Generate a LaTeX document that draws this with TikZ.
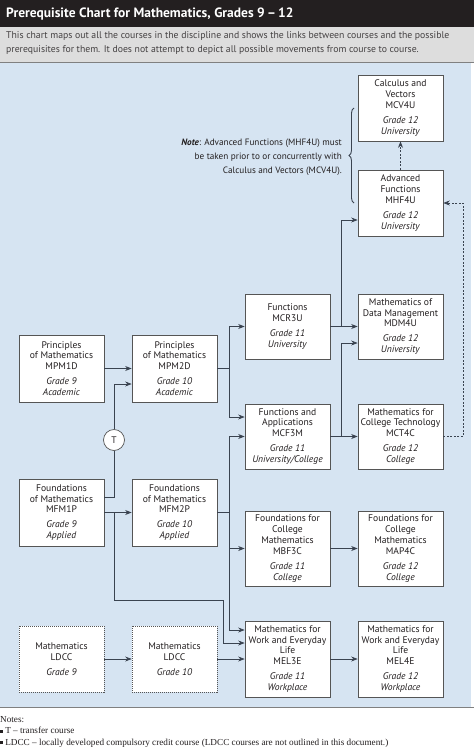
\documentclass[tikz,border=0pt]{standalone}
\usepackage{fontspec}
\setmainfont{PT Sans}
\newfontfamily\notefont{Liberation Serif}
\usetikzlibrary{arrows.meta,decorations.pathreplacing}
\definecolor{bluebg}{HTML}{D6E4F2}
\definecolor{grayband}{HTML}{DDDDDD}
\definecolor{titlebg}{HTML}{231F20}
\definecolor{ink}{HTML}{231F20}
\definecolor{linec}{HTML}{3A4350}
\definecolor{boxc}{HTML}{555555}
\tikzset{
  course/.style={draw=boxc, line width=0.7pt, fill=white, minimum width=85pt,
    align=center, font=\fontsize{9.6}{10.9}\selectfont, text=ink, inner sep=0pt},
  ldcc/.style={course, dash pattern=on 1pt off 1pt},
  ln/.style={draw=linec, line width=0.7pt},
  arr/.style={ln, -{Stealth[length=6.5pt,width=5pt]}},
  dsh/.style={arr, dash pattern=on 2pt off 1.5pt},
  tcirc/.style={circle, draw=boxc, line width=0.7pt, fill=white, minimum size=21pt,
    inner sep=0pt, font=\fontsize{9.5}{10}\selectfont, text=ink}
}
\begin{document}
\begin{tikzpicture}[x=1pt,y=-1pt]
\useasboundingbox (0,0) rectangle (474,755);
\fill[white] (0,0) rectangle (474,755);
% header
\fill[titlebg] (0,0) rectangle (474,27);
\node[anchor=west, text=white, inner sep=0pt, font=\bfseries\fontsize{13.5}{15}\selectfont] (title) at (6,14) {Prerequisite Chart for Mathematics, Grades 9\,–\,12};
\fill[grayband] (0,27) rectangle (474,62);
\node[anchor=north west, inner sep=0pt, align=left, text=ink!85, font=\fontsize{9.75}{14}\selectfont] (intro) at (6,31)
 {This chart maps out all the courses in the discipline and shows the links between courses and the possible\\prerequisites for them. It does not attempt to depict all possible movements from course to course.};
\fill[bluebg] (0,62) rectangle (471,707);
\draw[gray, line width=0.8pt] (0,62) -- (474,62);
\draw[gray, line width=0.8pt] (0,707.5) -- (474,707.5);

% courses
\node[course, minimum height=67pt] (MPM1D) at (61.5,368.5) {Principles\\of Mathematics\\MPM1D\\[4pt]\textit{Grade 9}\\\textit{Academic}};
\node[course, minimum height=67pt] (MPM2D) at (174.5,368.5) {Principles\\of Mathematics\\MPM2D\\[4pt]\textit{Grade 10}\\\textit{Academic}};
\node[course, minimum height=67pt] (MFM1P) at (61.5,512.5) {Foundations\\of Mathematics\\MFM1P\\[4pt]\textit{Grade 9}\\\textit{Applied}};
\node[course, minimum height=67pt] (MFM2P) at (174.5,512.5) {Foundations\\of Mathematics\\MFM2P\\[4pt]\textit{Grade 10}\\\textit{Applied}};
\node[ldcc, minimum height=66pt] (LDCC9) at (61.5,659) {Mathematics\\LDCC\\[4pt]\textit{Grade 9}};
\node[ldcc, minimum height=66pt] (LDCC10) at (174.5,659) {Mathematics\\LDCC\\[4pt]\textit{Grade 10}};
\node[course, minimum height=65pt] (MCR3U) at (287.5,326.5) {Functions\\MCR3U\\[4pt]\textit{Grade 11}\\\textit{University}};
\node[course, minimum height=65pt] (MCF3M) at (287.5,436.5) {Functions and\\Applications\\MCF3M\\[4pt]\textit{Grade 11}\\\textit{University/College}};
\node[course, minimum height=75pt] (MBF3C) at (287.5,548.5) {Foundations for\\College\\Mathematics\\MBF3C\\[4pt]\textit{Grade 11}\\\textit{College}};
\node[course, minimum height=76pt] (MEL3E) at (287.5,659) {Mathematics for\\Work and Everyday\\Life\\MEL3E\\[4pt]\textit{Grade 11}\\\textit{Workplace}};
\node[course, minimum height=66pt] (MCV4U) at (400.5,108) {Calculus and\\Vectors\\MCV4U\\[4pt]\textit{Grade 12}\\\textit{University}};
\node[course, minimum height=66pt] (MHF4U) at (400.5,203) {Advanced\\Functions\\MHF4U\\[4pt]\textit{Grade 12}\\\textit{University}};
\node[course, minimum height=65pt] (MDM4U) at (400.5,326.5) {Mathematics of\\Data Management\\MDM4U\\[4pt]\textit{Grade 12}\\\textit{University}};
\node[course, minimum height=65pt] (MCT4C) at (400.5,436.5) {Mathematics for\\College Technology\\MCT4C\\[4pt]\textit{Grade 12}\\\textit{College}};
\node[course, minimum height=75pt] (MAP4C) at (400.5,548.5) {Foundations for\\College\\Mathematics\\MAP4C\\[4pt]\textit{Grade 12}\\\textit{College}};
\node[course, minimum height=76pt] (MEL4E) at (400.5,659) {Mathematics for\\Work and Everyday\\Life\\MEL4E\\[4pt]\textit{Grade 12}\\\textit{Workplace}};

\node[tcirc] (T) at (114,440) {T};

% junction coordinates
\coordinate (j1) at (114,512.5);
\coordinate (c1) at (223,600);
\coordinate (t1) at (229,368.5);
\coordinate (t2) at (229,512.5);
\coordinate (t3) at (341,326.5);
\coordinate (t4) at (341,436.5);
\coordinate (d1) at (463,436.5);

% grade 9 -> grade 10
\draw[arr] (MPM1D) -- (MPM2D);
\draw[arr] (MFM1P) -- (MFM2P);
\draw[arr] (LDCC9) -- (LDCC10);
\draw[ln] ([yshift=15.5pt]MFM1P.east) -| (T.south);
\draw[arr] (T.north) |- ([yshift=-15.5pt]MPM2D.west);
\draw[arr] (j1) |- (c1) |- ([yshift=16pt]MEL3E.west);

% grade 10 -> grade 11
\draw[ln] (MPM2D.east) -- (t1);
\draw[arr] (t1) |- (MCR3U.west);
\draw[arr] (t1) |- ([yshift=19.5pt]MCF3M.west);
\draw[ln] (MFM2P.east) -- (t2);
\draw[arr] (t2) |- (MCF3M.west);
\draw[arr] (t2) |- (MBF3C.west);
\draw[arr] (t2) |- ([yshift=29pt]MEL3E.west);
\draw[arr] (LDCC10) -- (MEL3E);

% grade 11 -> grade 12
\draw[arr] (MCR3U) -- (MDM4U);
\draw[arr] (t3) |- ([yshift=-17pt]MHF4U.west);
\draw[arr] (MCF3M) -- (MCT4C);
\draw[arr] (t4) |- ([yshift=-16.5pt]MDM4U.west);
\draw[arr] (MBF3C) -- (MAP4C);
\draw[arr] (MEL3E) -- (MEL4E);
\draw[dsh] (MCT4C.east) -- (d1) |- (MHF4U.east);
\draw[dsh] (MHF4U.north) -- (MCV4U.south);

% note with brace
\draw[ln, line width=0.9pt, decorate, decoration={brace, amplitude=5pt}] (354,203) -- (354,108);
\node[anchor=east, inner sep=0pt, align=right, text=ink, font=\fontsize{9.2}{13.8}\selectfont] (note) at (342,157)
 {\textbf{\textit{Note}}: Advanced Functions (MHF4U) must\\be taken prior to or concurrently with\\Calculus and Vectors (MCV4U).};

% footnotes
\node[anchor=north west, inner sep=0pt, align=left, text=ink, font=\notefont\fontsize{9.2}{11.5}\selectfont] (notes) at (0,716)
 {Notes:\\\rule[1pt]{2.8pt}{2.8pt}\ T – transfer course\\\rule[1pt]{2.8pt}{2.8pt}\ LDCC – locally developed compulsory credit course (LDCC courses are not outlined in this document.)};
\end{tikzpicture}
\end{document}
